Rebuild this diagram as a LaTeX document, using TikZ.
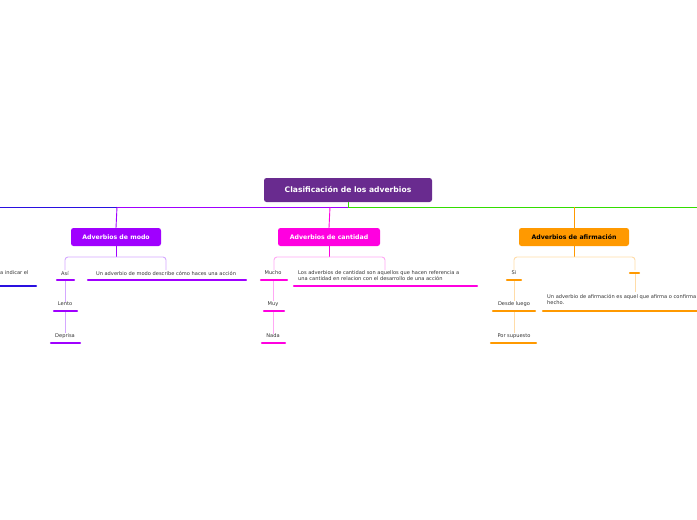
\documentclass[tikz,border=0pt]{standalone}
\usepackage{fontspec}
\setmainfont{DejaVu Sans}
\begin{document}
\begin{tikzpicture}[x=1pt,y=-1pt,
  box/.style={rounded corners=2.5pt,inner sep=0pt,text=white,font=\fontsize{6.2}{7}\selectfont\bfseries},
  lbl/.style={font=\fontsize{5.1}{6}\selectfont,text=black!80,inner sep=0pt},
  bar/.style={line width=2.2pt,line cap=round},
  conn/.style={line width=0.9pt}]
\definecolor{root}{HTML}{692B8F}
\definecolor{cmodo}{HTML}{A000FF}
\definecolor{lmodo}{HTML}{D4A8FF}
\definecolor{ccant}{HTML}{FF00E0}
\definecolor{lcant}{HTML}{FFA8F4}
\definecolor{cafi}{HTML}{FF9900}
\definecolor{lafi}{HTML}{FFDCA8}
\definecolor{cblue}{HTML}{2A10E0}
\definecolor{cgreen}{HTML}{33DD00}
\useasboundingbox (0,0) rectangle (697,520);
\clip (0,0) rectangle (697,520);
% root
\node[box,fill=root,minimum width=168pt,minimum height=24pt,font=\fontsize{7.6}{9}\selectfont\bfseries] (root) at (348,190) {Clasificación de los adverbios};
\coordinate (j) at (348,207);
\draw[conn,cgreen] (root.south) -- (j);
\draw[conn,cblue] (0,207) -- (117,207);
\draw[conn,cmodo] (117,207) -- (j);
\draw[conn,cgreen] (j) -- (697,207);
% branches
\node[box,fill=cmodo,minimum width=90pt,minimum height=18pt] (modo) at (116,237) {Adverbios de modo};
\node[box,fill=ccant,minimum width=102pt,minimum height=18pt] (cant) at (329,237) {Adverbios de cantidad};
\node[box,fill=cafi,text=black,minimum width=110pt,minimum height=18pt] (afi) at (574,237) {Adverbios de afirmación};
\draw[conn,cmodo] (117,207) -- (modo.north);
\draw[conn,ccant] (330,207) -- (cant.north);
\draw[conn,cafi] (574,207) -- (afi.north);
% left cut branch
\node[lbl,anchor=west] (lc) at (0,273) {a indicar el};
\draw[bar,cblue] (-5,286) -- (36,286);
% modo children
\draw[conn,cmodo] (modo.south) -- (116,257);
\draw[conn,lmodo,rounded corners=3pt] (65,270) -- (65,257) -- (166,257) -- (166,270);
\node[lbl] (asi) at (65,273) {Así};
\draw[bar,cmodo] (57,280) -- (74,280);
\node[lbl] (mdef) at (166,273) {Un adverbio de modo describe cómo haces una acción};
\draw[bar,cmodo] (88,280) -- (246,280);
\node[lbl] (lento) at (65,304) {Lento};
\draw[bar,cmodo] (54,311) -- (77,311);
\node[lbl] (deprisa) at (65,336) {Deprisa};
\draw[bar,cmodo] (51,343) -- (80,343);
\draw[conn,lmodo] (65,281) -- (lento.north);
\draw[conn,lmodo] (65,312) -- (deprisa.north);
% cantidad children
\draw[conn,ccant] (cant.south) -- (329,257);
\draw[conn,lcant,rounded corners=3pt] (274,270) -- (274,257) -- (385,257) -- (385,270);
\node[lbl] (mucho) at (273,273) {Mucho};
\draw[bar,ccant] (261,280) -- (287,280);
\node[lbl,anchor=north west,align=left] (cdef) at (298,270) {Los adverbios de cantidad son aquellos que hacen referencia a\\una cantidad en relacion con el desarrollo de una acción};
\draw[bar,ccant] (294,286) -- (477,286);
\node[lbl] (muy) at (273,304) {Muy};
\draw[bar,ccant] (264,311) -- (284,311);
\node[lbl] (nada) at (273,336) {Nada};
\draw[bar,ccant] (262,343) -- (285,343);
\draw[conn,lcant] (273,281) -- (muy.north);
\draw[conn,lcant] (273,312) -- (nada.north);
% afirmacion children
\draw[conn,cafi] (afi.south) -- (574,257);
\draw[conn,lafi,rounded corners=3pt] (514,270) -- (514,257) -- (635,257) -- (635,270);
\node[lbl] (si) at (514,273) {Si};
\draw[bar,cafi] (507,280) -- (521,280);
\draw[bar,cafi] (630,273) -- (639,273);
\draw[conn,lafi] (635,274) -- (635,292);
\node[lbl,anchor=north west,align=left] (adef) at (547,294) {Un adverbio de afirmación es aquel que afirma o confirma un\\hecho.};
\draw[bar,cafi] (543,311) -- (700,311);
\node[lbl] (desde) at (514,304) {Desde luego};
\draw[bar,cafi] (493,311) -- (535,311);
\node[lbl] (por) at (514,336) {Por supuesto};
\draw[bar,cafi] (491,343) -- (536,343);
\draw[conn,lafi] (514,281) -- (desde.north);
\draw[conn,lafi] (514,312) -- (por.north);
\end{tikzpicture}
\end{document}
